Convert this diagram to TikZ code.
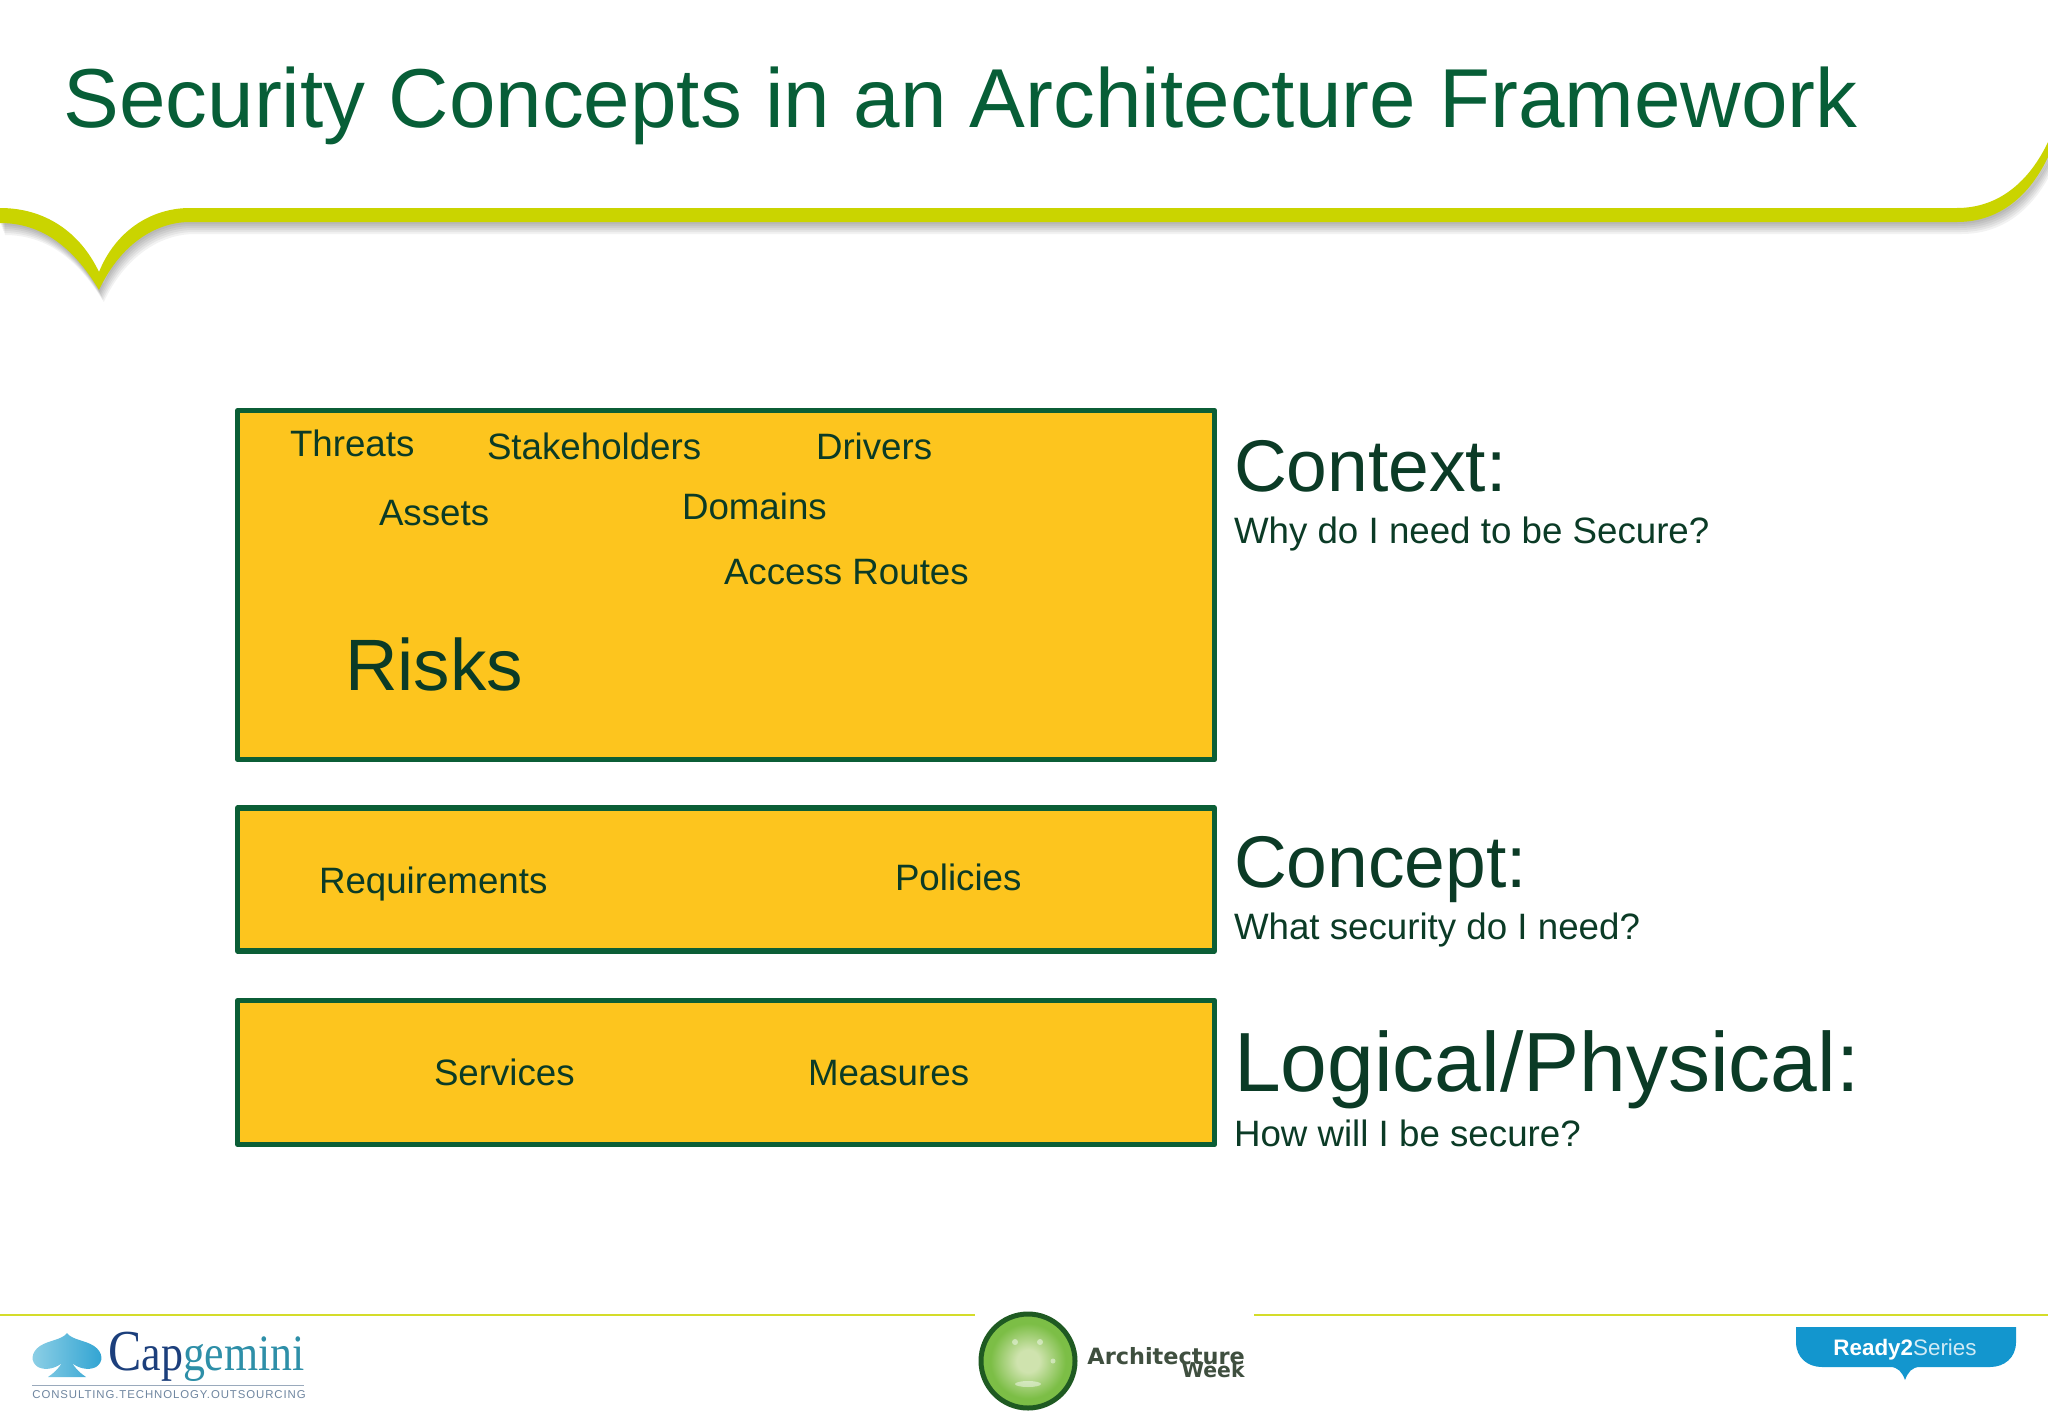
\documentclass[tikz,border=0pt]{standalone}
\usepackage{fontspec}
\setmainfont{Liberation Sans}
\newfontfamily\logoserif{Liberation Serif}
\newfontfamily\logowide{DejaVu Sans}
\newfontfamily\logotag[LetterSpace=8]{Liberation Sans}
\usetikzlibrary{shapes.geometric}
\definecolor{titlegreen}{HTML}{075E37}
\definecolor{textgreen}{HTML}{0B3B26}
\definecolor{boxfill}{HTML}{FDC51E}
\definecolor{boxedge}{HTML}{0B5E36}
\definecolor{lime}{HTML}{CAD400}
\definecolor{footline}{HTML}{D4DC2A}
\definecolor{capnavy}{HTML}{1C3F7C}
\definecolor{capteal}{HTML}{2E8FA8}
\definecolor{tagblue}{HTML}{6F86A0}
\definecolor{readyblue}{HTML}{1396CE}
\definecolor{spadelight}{HTML}{8FD0E6}
\definecolor{spadedark}{HTML}{2FA3D2}
\definecolor{archinner}{HTML}{CFE3AE}
\definecolor{archouter}{HTML}{7CBE46}
\definecolor{archedge}{HTML}{1F5A22}
\definecolor{archtext}{HTML}{3F4F3F}
\pgfdeclareradialshading{archglow}{\pgfpoint{0bp}{0bp}}{color(0bp)=(archinner);color(6bp)=(archinner);color(20bp)=(archouter);color(50bp)=(archouter)}
\tikzset{
  lbl/.style={anchor=base west,inner sep=0pt,outer sep=0pt,text=textgreen,font=\fontsize{18.35pt}{20pt}\selectfont},
  bigl/.style={lbl,font=\fontsize{36.6pt}{40pt}\selectfont},
  panel/.style={draw=boxedge,line width=2.65pt,line join=round,fill=boxfill,minimum width=488.4pt,inner sep=0pt,outer sep=0pt},
  archlabel/.style={inner sep=0pt,text=archtext,font=\logowide\bfseries\fontsize{11.2pt}{12pt}\selectfont},
  archspot/.style={white,opacity=0.45},
}
\def\wave{(0,208) .. controls (45,208) and (80,232) .. (99,272) .. controls (115,232) and (150,208) .. (190,208) -- (1957,208) .. controls (2000,208) and (2030,180) .. (2048,142) -- (2048,157) .. controls (2030,195) and (2000,222) .. (1957,222) -- (190,222) .. controls (155,222) and (120,245) .. (99,290) .. controls (72,245) and (40,223) .. (0,223) -- cycle}
\begin{document}
\begin{tikzpicture}[x=0.5pt,y=-0.5pt]
\useasboundingbox (0,0) rectangle (2048,1418);
\fill[white] (0,0) rectangle (2048,1418);
% header band
\foreach \d in {12,10,8,6,4,2}{
  \fill[black,opacity=0.05,shift={(\d*0.4,\d)}] \wave;
}
\fill[lime] \wave;
\node[anchor=base west,inner sep=0pt,text=titlegreen,font=\fontsize{41.82pt}{46pt}\selectfont] (title) at (63,127) {Security Concepts in an Architecture Framework};
% panels
\node[panel,minimum height=174.5pt] (contextbox) at (726.1,585) {};
\node[panel,minimum height=71.5pt] (conceptbox) at (726.1,879.5) {};
\node[panel,minimum height=72pt] (logicalbox) at (726.1,1072.5) {};
% panel words
\node[lbl] (threats) at (290,456) {Threats};
\node[lbl] (stake) at (487,459) {Stakeholders};
\node[lbl] (drivers) at (816,459) {Drivers};
\node[lbl] (assets) at (379,525) {Assets};
\node[lbl] (domains) at (682,519) {Domains};
\node[lbl] (access) at (724,584) {Access Routes};
\node[bigl,font=\fontsize{36.4pt}{40pt}\selectfont] (risks) at (345,690) {Risks};
\node[lbl] (reqs) at (319,893) {Requirements};
\node[lbl] (policies) at (895,890) {Policies};
\node[lbl] (services) at (434,1085) {Services};
\node[lbl] (measures) at (808,1085) {Measures};
% right labels
\node[bigl] (context) at (1234,491) {Context:};
\node[lbl] (why) at (1234,543) {Why do I need to be Secure?};
\node[bigl] (concept) at (1234,887) {Concept:};
\node[lbl] (what) at (1234,939) {What security do I need?};
\node[bigl,font=\fontsize{42pt}{46pt}\selectfont] (logical) at (1234,1091) {Logical/Physical:};
\node[lbl] (how) at (1234,1146) {How will I be secure?};
% footer lines
\coordinate (la) at (0,1315); \coordinate (lb) at (975,1315);
\coordinate (lc) at (1254,1315); \coordinate (ld) at (2048,1315);
\draw[footline,line width=1pt] (la) -- (lb) (lc) -- (ld);
% Capgemini logo
\shade[left color=spadelight,right color=spadedark]
  (67,1333) .. controls (72,1340) and (85,1340) .. (94,1346) .. controls (103,1352) and (104,1362) .. (96,1367)
  .. controls (88,1371) and (78,1368) .. (72,1363) .. controls (76,1369) and (80,1373) .. (86,1377) -- (48,1377)
  .. controls (54,1373) and (58,1369) .. (62,1363) .. controls (56,1368) and (46,1371) .. (38,1367)
  .. controls (30,1362) and (31,1352) .. (40,1346) .. controls (49,1340) and (62,1340) .. (67,1333) -- cycle;
\node[anchor=base west,inner sep=0pt,font=\logoserif\fontsize{25.5pt}{27pt}\selectfont] (capname) at (108,1370)
  {\scalebox{0.86}[1]{\textcolor{capnavy}{\fontsize{29pt}{31pt}\selectfont C}\textcolor{capnavy}{ap}\textcolor{capteal}{gemini}}};
\coordinate (ca) at (32,1385); \coordinate (cb) at (304,1385);
\draw[tagblue!70!white,line width=0.5pt] (ca) -- (cb);
\node[anchor=base west,inner sep=0pt,text=tagblue,font=\logotag\fontsize{5.7pt}{6pt}\selectfont] (captag) at (32,1398) {CONSULTING.TECHNOLOGY.OUTSOURCING};
% Architecture Week logo
\shade[shading=archglow,draw=archedge,line width=2.5pt] (1028,1361) circle (47);
\fill[archspot] (1028,1384) ellipse (13 and 3);
\fill[archspot] (1015,1342) circle (3);
\fill[archspot] (1040,1342) circle (3);
\fill[archspot] (1053,1361) circle (2.5);
\node[anchor=base west,archlabel] (archw) at (1087,1364) {Architecture};
\node[anchor=base east,archlabel,font=\logowide\bfseries\fontsize{10.2pt}{12pt}\selectfont] (weekw) at (1245,1377) {Week};
% Ready2Series logo
\fill[readyblue] (1796,1327) -- (2016,1327) -- (2016,1342) .. controls (2016,1358) and (2004,1367) .. (1990,1367) -- (1920,1367)
  .. controls (1912,1367) and (1908,1372) .. (1905,1380) .. controls (1902,1372) and (1898,1367) .. (1890,1367) -- (1822,1367)
  .. controls (1808,1367) and (1796,1358) .. (1796,1342) -- cycle;
\node[anchor=base west,inner sep=0pt,text=white,font=\fontsize{11.2pt}{12pt}\selectfont] (ready) at (1833,1355) {\textbf{Ready2}{\color{white!80!readyblue}Series}};
\end{tikzpicture}
\end{document}
